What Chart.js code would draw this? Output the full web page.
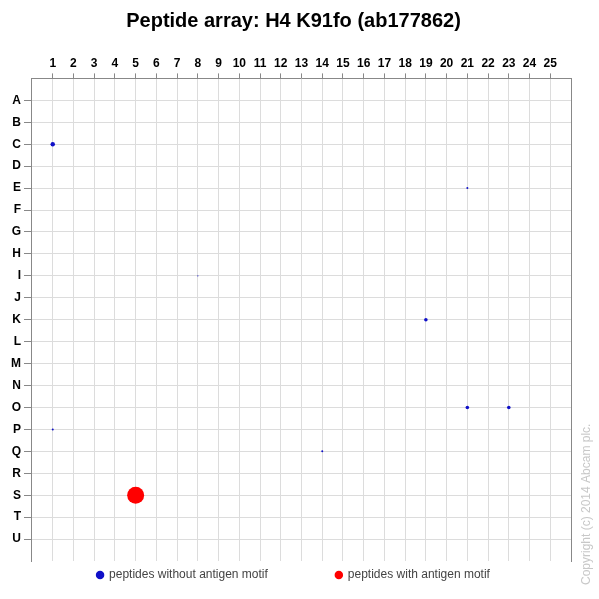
<!DOCTYPE html>
<html>
<head>
<meta charset="utf-8">
<script src="https://cdn.jsdelivr.net/npm/chart.js@4"></script>
<style>
    body { margin: 0; background: #fff; }
    #wrap { width: 599px; height: 599px; }
</style>
</head>
<body>
<div id="wrap"><canvas id="chart" width="599" height="599"></canvas></div>
<script>
const columns = Array.from({ length: 25 }, (_, i) => String(i + 1));
const rows = ["A", "B", "C", "D", "E", "F", "G", "H", "I", "J", "K", "L", "M", "N", "O", "P", "Q", "R", "S", "T", "U"];

// [column, row letter, radius]
const withoutMotif = [
    [1, "C", 2.2],
    [21, "E", 1],
    [8, "I", 0.6],
    [19, "K", 1.8],
    [21, "O", 1.8],
    [23, "O", 1.8],
    [1, "P", 1],
    [14, "Q", 1]
];
const withMotif = [
    [5, "S", 8.5]
];

const toPoints = list => list.map(([c, r, size]) => ({ x: c, y: rows.indexOf(r) + 1, r: size }));

const copyright = {
    id: "copyright",
    afterDraw(chart) {
        const { ctx } = chart;
        ctx.save();
        ctx.translate(587, 585);
        ctx.rotate(-Math.PI / 2);
        ctx.fillStyle = "#c8c8c8";
        ctx.font = "12px Arial, 'Liberation Sans'";
        ctx.fillText("Copyright (c) 2014 Abcam plc.", 0, 0);
        ctx.restore();
    }
};

new Chart(document.getElementById("chart"), {
    type: "bubble",
    data: {
        datasets: [
            {
                label: "peptides without antigen motif                  ",
                data: toPoints(withoutMotif),
                backgroundColor: "#1010c8",
                borderColor: "#1010c8",
                borderWidth: 0
            },
            {
                label: "peptides with antigen motif",
                data: toPoints(withMotif),
                backgroundColor: "#ff0000",
                borderColor: "#ff0000",
                borderWidth: 0
            }
        ]
    },
    options: {
        responsive: false,
        animation: false,
        layout: { padding: { left: 8, right: 20, top: 0, bottom: 8 } },
        plugins: {
            title: {
                display: true,
                text: "Peptide array: H4 K91fo (ab177862)",
                color: "#000",
                font: { family: "Arial, 'Liberation Sans'", size: 20, weight: "bold" },
                padding: { top: 9, bottom: 20 }
            },
            legend: {
                position: "bottom",
                labels: {
                    usePointStyle: true,
                    pointStyle: "circle",
                    boxWidth: 6,
                    boxHeight: 6,
                    padding: 8,
                    color: "#444",
                    font: { family: "Arial, 'Liberation Sans'", size: 12 }
                }
            },
            tooltip: { enabled: false }
        },
        scales: {
            x: {
                position: "top",
                min: 0,
                max: 26,
                afterBuildTicks(axis) {
                    axis.ticks = columns.map((_, i) => ({ value: i + 1 }));
                },
                ticks: {
                    autoSkip: false,
                    maxRotation: 0,
                    color: "#000",
                    font: { family: "Arial, 'Liberation Sans'", size: 12, weight: "bold" },
                    callback: value => columns[value - 1] ?? ""
                },
                grid: { color: "#dcdcdc", tickColor: "#888", tickLength: 5 },
                border: { color: "#888", width: 1 }
            },
            y: {
                reverse: true,
                min: 0,
                max: 22,
                afterBuildTicks(axis) {
                    axis.ticks = rows.map((_, i) => ({ value: i + 1 }));
                },
                ticks: {
                    autoSkip: false,
                    color: "#000",
                    font: { family: "Arial, 'Liberation Sans'", size: 12, weight: "bold" },
                    callback: value => rows[value - 1] ?? ""
                },
                grid: { color: "#dcdcdc", tickColor: "#888", tickLength: 8 },
                border: { color: "#888", width: 1 }
            },
            y2: {
                position: "right",
                min: 0,
                max: 22,
                ticks: { display: false },
                grid: { display: false },
                border: { color: "#888", width: 1 }
            }
        }
    },
    plugins: [copyright]
});
</script>
</body>
</html>
